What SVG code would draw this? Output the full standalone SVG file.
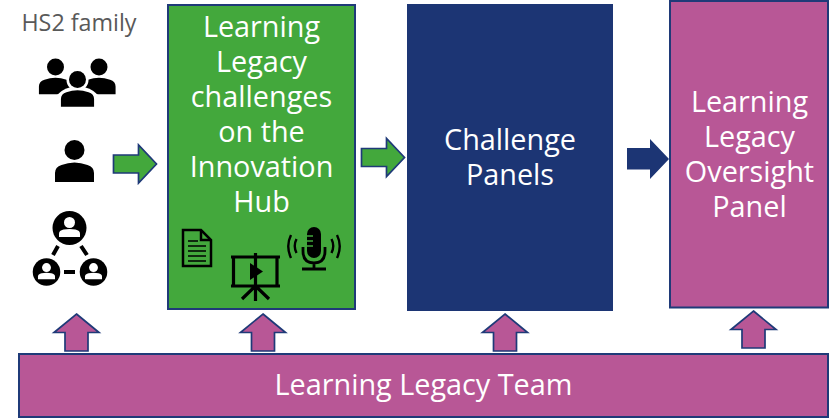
<svg xmlns="http://www.w3.org/2000/svg" width="840" height="420" viewBox="0 0 840 420">
<defs>
<style>
.box{stroke:#1f3a78;stroke-width:2}
.g{fill:#43a83c}
.p{fill:#b85796}
.n{fill:#1c3574}
.t{font-family:"Open Sans","Noto Sans",sans-serif;font-size:28.800px;fill:#fff;text-anchor:middle}
.ar{stroke:#1f3a78;stroke-width:1.700;stroke-linejoin:miter}
.ic{fill:#000}
.il{fill:none;stroke:#000}
</style>
<path id="up" d="M0 0L22.500 18.500H11.500V37H-11.500V18.500H-22.500Z"/>
<path id="right" d="M0 -9H25V-19L43 0 25 19V9H0Z"/>
<g id="u"><circle cx="0" cy="0" r="10"/><path d="M-19.500 32V23Q-19.500 17-13 15Q0 10 13 15Q19.500 17 19.500 23V32Z"/></g>
<g id="small-a"><circle r="17" fill="#000"/><circle cx="0" cy="-5.500" r="5.500" fill="#fff"/><path d="M-10.500 9V5.500Q-10.500 2.500-6 1.500Q0 .5 6 1.500Q10.500 2.500 10.500 5.500V9Z" fill="#fff"/></g>
</defs>
<rect width="840" height="420" fill="#fff"/>
<g id="connectors">
<use href="#right" x="113.500" y="164" class="g ar"/>
<use href="#right" x="361.500" y="157.500" class="g ar"/>
<path d="M627 148H650V139L669 159 650 179V169.500H627Z" class="n"/>
<use href="#up" x="76.500" y="314" class="p ar"/>
<use href="#up" x="263" y="314" class="p ar"/>
<use href="#up" x="505" y="314" class="p ar"/>
<use href="#up" x="753.500" y="311" class="p ar"/>
</g>
<g id="hs2-family">
<text x="79" y="31" font-family="'Open Sans','Noto Sans',sans-serif" font-size="23.300" fill="#595959" text-anchor="middle">HS2 family</text>
<g id="icon-group" class="ic">
<use href="#u" transform="translate(55.500 67) scale(.85)"/>
<use href="#u" transform="translate(99 67) scale(.85)"/>
<circle cx="77.500" cy="80" r="11" fill="#fff"/>
<path d="M57 109V95Q64 87 77.500 86Q91 87 98 95V109Z" fill="#fff"/>
<use href="#u" transform="translate(77.500 79.500) scale(.85)"/>
</g>
<use id="icon-person" href="#u" x="74.500" y="150"/>
<g id="icon-network">
<use href="#small-a" x="69.500" y="228"/>
<use href="#small-a" transform="translate(46.500 272) scale(.81)"/>
<use href="#small-a" transform="translate(93.500 272) scale(.81)"/>
<path d="M58 246L53 255M81 246L87 255M64 272H75" stroke="#000" stroke-width="4" fill="none"/>
</g>
</g>
<g id="challenges">
<rect x="168" y="5" width="187" height="304" class="box g"/>
<text class="t"><tspan x="261.500" y="37">Learning</tspan><tspan x="261.500" y="72">Legacy</tspan><tspan x="261.500" y="107">challenges</tspan><tspan x="261.500" y="142">on the</tspan><tspan x="261.500" y="177">Innovation</tspan><tspan x="261.500" y="212">Hub</tspan></text>
<g id="icon-doc" class="il" stroke-width="2.500">
<path d="M183 230H201L211 240V266H183Z"/><path d="M201 230V240H211"/>
<path d="M188 241H198M188 246H206M188 251H206M188 256H206M188 261H206" stroke-width="1.500"/>
</g>
<g id="icon-screen">
<path d="M231 257H280M231 286H280M233.500 257V286M277 257V286M255.500 253V301M255.500 286L242 299M255.500 286L269 299" class="il" stroke-width="3.200"/>
<path d="M250 263L263 271.500 250 280Z" class="ic"/>
</g>
<g id="icon-mic">
<rect x="307" y="227" width="14" height="31" rx="7" class="ic"/>
<path d="M307 236H313M307 241H313M307 246H313" stroke="#43a83c" stroke-width="1.300"/>
<path d="M303 247V251Q303 263 314 263Q325 263 325 251V247M314 263V269M302 269H326" class="il" stroke-width="2.800"/>
<path d="M296.500 239Q293 246 296.500 253M291 235Q285.500 246 291 258M331.500 239Q335 246 331.500 253M337 235Q342.500 246 337 258" class="il" stroke-width="2.400"/>
</g>
</g>
<g id="challenge-panels">
<rect x="407" y="4" width="206" height="307" class="n"/>
<text class="t"><tspan x="510" y="150">Challenge</tspan><tspan x="510" y="185">Panels</tspan></text>
</g>
<g id="oversight-panel">
<rect x="670" y="1" width="158" height="306.500" class="box p" stroke-width="1.500"/>
<text class="t"><tspan x="749.500" y="112">Learning</tspan><tspan x="749.500" y="147">Legacy</tspan><tspan x="749.500" y="182">Oversight</tspan><tspan x="749.500" y="217">Panel</tspan></text>
</g>
<g id="team">
<rect x="19" y="354" width="809" height="63" class="box p"/>
<text class="t" x="423.500" y="395">Learning Legacy Team</text>
</g>
</svg>
